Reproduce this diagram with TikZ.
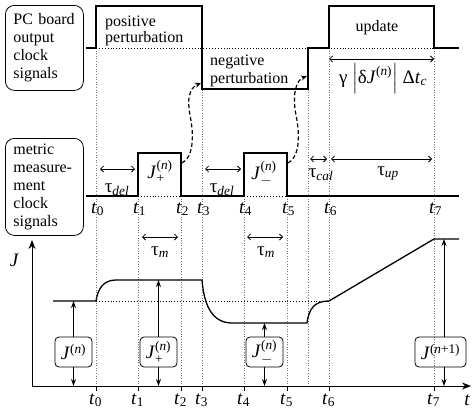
\documentclass[tikz,border=0pt]{standalone}
\usepackage{fontspec}
\usepackage{amsmath}
\setmainfont{Liberation Serif}
\usetikzlibrary{arrows.meta}
\begin{document}
\begin{tikzpicture}[x=1pt,y=-1pt,
  sig/.style={line width=1.3pt, line join=miter},
  guide/.style={dotted, line width=0.6pt, black!55},
  lvl/.style={dotted, line width=0.9pt},
  dim/.style={{Straight Barb[length=3pt,width=6pt]}-{Straight Barb[length=3pt,width=6pt]}, line width=0.8pt},
  cause/.style={dash pattern=on 4pt off 2.5pt, line width=1.2pt, -{Stealth[length=6pt,width=5pt]}},
  valarr/.style={line width=0.8pt, -{Stealth[length=7pt,width=5pt]}},
  axisarr/.style={line width=1pt, -{Stealth[length=9pt,width=7pt]}},
  lbl/.style={inner sep=0pt, font=\fontsize{16}{18}\selectfont},
  mlbl/.style={inner sep=0pt, font=\fontsize{19}{21}\selectfont},
  sigbox/.style={draw, line width=0.8pt, rounded corners=9pt, align=left, inner xsep=8pt, inner ysep=0pt, font=\fontsize{16}{18}\selectfont, anchor=north west},
  valbox/.style={draw, line width=0.8pt, rounded corners=4pt, inner sep=1pt, minimum height=30pt, font=\fontsize{19}{21}\selectfont},
]
\useasboundingbox (0,0) rectangle (474,415);

% signal boxes
\node[sigbox, minimum width=78pt, minimum height=85pt, text width=62pt] (pcbox) at (5,5)
  {PC board\\output\\clock\\signals};
\node[sigbox, minimum width=77pt, minimum height=97pt, text width=62pt] (mbox) at (5,138)
  {metric\\measure-\\ment\\clock\\signals};

% guide lines
\foreach \x in {96,202,308,329,434} \draw[guide] (\x,48) -- (\x,386);
\foreach \x in {138,181,244,287} \draw[guide] (\x,196) -- (\x,386);

% PC board output signal
\draw[lvl] (96,48) -- (434,48);
\draw[sig] (86,48) -- (96,48) -- (96,6) -- (202,6) -- (202,89) -- (308,89) -- (308,48)
  -- (329,48) -- (329,6) -- (434,6) -- (434,48) -- (459,48);
\node[lbl, anchor=base west] (pos1) at (105,26) {positive};
\node[lbl, anchor=base west] (pos2) at (105,42) {perturbation};
\node[lbl, anchor=base west] (neg1) at (210,65) {negative};
\node[lbl, anchor=base west] (neg2) at (210,83) {perturbation};
\node[lbl, anchor=base] (upd) at (377,31) {update};
\coordinate (g1) at (329,59); \coordinate (g2) at (434,59);
\draw[dim] (g1) -- (g2);
\node[mlbl, anchor=base] (gam) at (383,83)
  {$\text{γ}\;\Bigl|\text{δ\textit{J}}^{\text{(\textit{n})}}\Bigr|\;\text{Δ\textit{t}}_{\text{\textit{c}}}$};

% metric measurement signal
\draw[lvl] (138,196) -- (181,196);
\draw[lvl] (244,196) -- (287,196);
\draw[sig] (86,196) -- (138,196) -- (138,153) -- (181,153) -- (181,196) -- (244,196)
  -- (244,153) -- (287,153) -- (287,196) -- (459,196);
\node[mlbl, anchor=base] (jp) at (160,178) {$\text{\textit{J}}^{\text{(\textit{n})}}_{\text{+}}$};
\node[mlbl, anchor=base] (jm) at (264,179) {$\text{\textit{J}}^{\text{(\textit{n})}}_{-}$};

\coordinate (d1a) at (100,169); \coordinate (d1b) at (135,169);
\draw[dim] (d1a) -- (d1b);
\node[mlbl, anchor=base] (tdel1) at (117,192) {τ\textsubscript{\textit{del}}};
\coordinate (d2a) at (205,169); \coordinate (d2b) at (241,169);
\draw[dim] (d2a) -- (d2b);
\node[mlbl, anchor=base] (tdel2) at (222,192) {τ\textsubscript{\textit{del}}};
\coordinate (c1a) at (310,159); \coordinate (c1b) at (327,159);
\draw[dim] (c1a) -- (c1b);
\node[mlbl, anchor=base] (tcal) at (321,177) {τ\textsubscript{\textit{cal}}};
\coordinate (u1a) at (331,159); \coordinate (u1b) at (432,159);
\draw[dim] (u1a) -- (u1b);
\node[mlbl, anchor=base] (tup) at (388,175) {τ\textsubscript{\textit{up}}};

\foreach \x/\i in {96/0,138/1,181/2,202/3,244/4,287/5,329/6,434/7}
  \node[mlbl, anchor=base west] (tm\i) at (\x-5,213) {\textit{t}\textsubscript{\i}};

% causal dashed arrows
\coordinate (p1) at (182,163); \coordinate (e1) at (201,83);
\draw[cause] (p1) .. controls (192,158) and (195,140) .. (190,115) .. controls (187,100) and (189,88) .. (e1);
\coordinate (p2) at (288,163); \coordinate (e2) at (307,76);
\draw[cause] (p2) .. controls (298,158) and (301,140) .. (296,115) .. controls (292,95) and (296,80) .. (e2);

% J plot axes
\coordinate (o) at (32,386);
\coordinate (jtop) at (32,240);
\coordinate (tend) at (471,386);
\draw[axisarr] (o) -- (jtop);
\draw[axisarr] (o) -- (tend);
\node[mlbl, anchor=base, font=\fontsize{19}{21}\selectfont\itshape] (Jlab) at (14,266) {J};
\node[mlbl, anchor=base, font=\fontsize{19}{21}\selectfont\itshape] (tlab) at (467,405) {t};
\foreach \x/\i in {96/0,138/1,181/2,202/3,244/4,287/5,329/6,434/7} {
  \draw[line width=0.8pt] (\x,386) -- (\x,391);
  \node[mlbl, anchor=base west] (tb\i) at (\x-7,404) {\textit{t}\textsubscript{\i}};
}

% J curve
\draw[lvl] (96,301) -- (329,301);
\draw[sig] (53,301) -- (96,301) .. controls (98,288) and (104,280) .. (116,280) -- (202,280)
  .. controls (204,305) and (212,323) .. (232,323) -- (307,323)
  .. controls (309,308) and (315,301) .. (329,301) -- (434,239) -- (459,239);

% tau_m
\coordinate (m1a) at (142,237); \coordinate (m1b) at (178,237);
\draw[dim] (m1a) -- (m1b);
\node[mlbl, anchor=base] (tm1lab) at (160,255) {τ\textsubscript{\textit{m}}};
\coordinate (m2a) at (247,237); \coordinate (m2b) at (283,237);
\draw[dim] (m2a) -- (m2b);
\node[mlbl, anchor=base] (tm2lab) at (266,255) {τ\textsubscript{\textit{m}}};

% value boxes
\node[valbox, minimum width=37pt] (bJn) at (73.5,352) {$\text{\textit{J}}^{\text{(\textit{n})}}$};
\coordinate (cJn) at (73.5,301); \coordinate (aJn) at (73.5,386);
\draw[valarr] (bJn) -- (cJn); \draw[valarr] (bJn) -- (aJn);

\node[valbox, minimum width=37pt] (bJp) at (158.5,352) {$\text{\textit{J}}^{\text{(\textit{n})}}_{\text{+}}$};
\coordinate (cJp) at (158.5,280); \coordinate (aJp) at (158.5,386);
\draw[valarr] (bJp) -- (cJp); \draw[valarr] (bJp) -- (aJp);

\node[valbox, minimum width=37pt] (bJm) at (264.5,352) {$\text{\textit{J}}^{\text{(\textit{n})}}_{-}$};
\coordinate (cJm) at (264.5,323); \coordinate (aJm) at (264.5,386);
\draw[valarr] (bJm) -- (cJm); \draw[valarr] (bJm) -- (aJm);

\node[valbox, minimum width=51pt] (bJn1) at (440.5,352) {$\text{\textit{J}}^{\text{(\textit{n}+1)}}$};
\coordinate (cJn1) at (444,239); \coordinate (aJn1) at (444,386);
\draw[valarr] (bJn1.north -| cJn1) -- (cJn1); \draw[valarr] (bJn1.south -| aJn1) -- (aJn1);
\end{tikzpicture}
\end{document}
